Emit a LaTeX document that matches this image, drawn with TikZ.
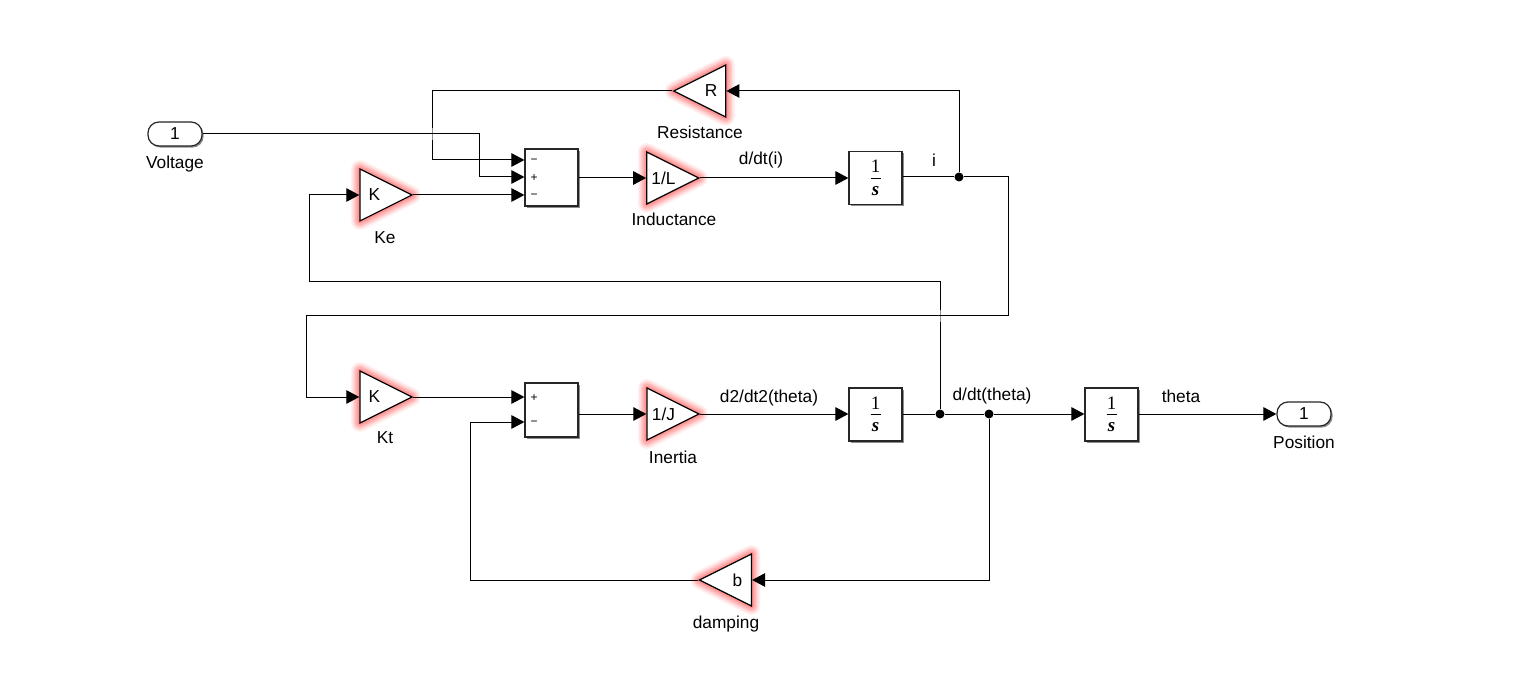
\documentclass[tikz,border=0pt]{standalone}
\usepackage{fontspec}
\setmainfont{Liberation Sans}
\newfontfamily\intfont{Liberation Serif}
\usetikzlibrary{arrows.meta,shapes.geometric,shadows}

\def\txtsize{\fontsize{17.3}{20}\selectfont}
\def\oneovers{\intfont\fontsize{19}{19}\selectfont\makebox[0pt]{\raisebox{5.5pt}{1}}\makebox[0pt]{\rule[-0.5pt]{10pt}{1.1pt}}\makebox[0pt]{\raisebox{-17pt}{\textbf{\textit{s}}}}}

\begin{document}
\begin{tikzpicture}[x=1pt,y=-1pt,line width=1pt,font=\txtsize,>={Triangle[length=13pt,width=13.5pt]}]
    \tikzstyle{shade}=[drop shadow={shadow xshift=1.6pt,shadow yshift=-1.6pt,opacity=0.45,fill=black}]
    \tikzstyle{block}=[draw=black!85,line width=1.2pt,fill=white,rectangle,inner sep=0pt,shade]
    \tikzstyle{int}=[block,minimum width=53pt,minimum height=53pt]
    \tikzstyle{sum}=[block,minimum width=53pt]
    \tikzstyle{port}=[block,rounded corners=11pt,minimum width=54pt,minimum height=24pt]
    \tikzstyle{glow}=[preaction={draw=red,opacity=0.06,line width=18pt,line join=round},
        preaction={draw=red,opacity=0.07,line width=15pt,line join=round},
        preaction={draw=red,opacity=0.09,line width=12pt,line join=round},
        preaction={draw=red,opacity=0.12,line width=9pt,line join=round},
        preaction={draw=red,opacity=0.16,line width=5pt,line join=round}]
    \tikzstyle{gain}=[isosceles triangle,isosceles triangle apex angle=53.13,isosceles triangle stretches,
        minimum width=52pt,minimum height=52pt,inner sep=0pt,draw=black,line width=1.2pt,fill=white,line join=miter,glow]
    \tikzstyle{gain back}=[gain,shape border rotate=180]
    \tikzstyle{dot}=[circle,fill=black,minimum size=9pt,inner sep=0pt]
    \tikzstyle{sign}=[font=\fontsize{12}{12}\selectfont,inner sep=0pt]
    \tikzstyle{wire}=[->,draw=black]
    \tikzstyle{faded}=[draw=white,opacity=0.55,line width=1.4pt]
    \useasboundingbox (0,0) rectangle (1514,700);

    % Draw the ports
    \node[port] (Voltage) at (175,134) {1};
    \node[port] (Position) at (1304,414) {1};

    % Draw the gain blocks
    \node[gain] (Ke) at (374.5,195) {K};
    \node[gain] (Kt) at (374.5,397) {K};
    \node[gain] (L) at (663.5,178) {1/L};
    \node[gain] (J) at (663.5,414) {1/J};
    \node[gain back] (R) at (711,91) {R};
    \node[gain back] (b) at (737.5,580) {b};

    % Draw the sums
    \node[sum,minimum height=57pt] (S-1) at (551.5,177.5) {};
    \node[sum,minimum height=54pt] (S-2) at (551.5,410) {};
    \node[sign] (S-1a) at (534,161) {−};
    \node[sign] (S-1b) at (534,178) {+};
    \node[sign] (S-1c) at (534,196) {−};
    \node[sign] (S-2a) at (534,398) {+};
    \node[sign] (S-2b) at (534,423) {−};
    \coordinate (S-1-in1) at (S-1.west |- 0,160);
    \coordinate (S-1-in2) at (S-1.west |- 0,177);
    \coordinate (S-1-in3) at (S-1.west |- 0,195);
    \coordinate (S-2-in1) at (S-2.west |- 0,397);
    \coordinate (S-2-in2) at (S-2.west |- 0,422);

    % Draw the integrators
    \node[int] (I-1) at (875.5,178) {\oneovers};
    \node[int] (I-2) at (875.5,414.5) {\oneovers};
    \node[int] (I-3) at (1111.5,414.5) {\oneovers};

    % Draw the branch points
    \node[dot] (D-1) at (959,177) {};
    \node[dot] (D-2) at (940,414) {};
    \node[dot] (D-3) at (989,414) {};

    % Corners of the long wires
    \coordinate (c-1) at (432,91);
    \coordinate (c-2) at (479,134);
    \coordinate (c-3) at (1008,316);
    \coordinate (c-4) at (306,316);
    \coordinate (c-5) at (940,282);
    \coordinate (c-6) at (309,282);
    \coordinate (c-7) at (470,580);

    % Ends of the faded bits at the crossings
    \coordinate (x-1a) at (432,128);
    \coordinate (x-1b) at (432,140);
    \coordinate (x-2a) at (940,310);
    \coordinate (x-2b) at (940,322);

    % Upper loop
    \draw[wire] (R.apex) -- (c-1) -- (c-1 |- S-1-in1) -- (S-1-in1);
    \draw[faded] (x-1a) -- (x-1b);
    \draw[wire] (Voltage.east |- 0,134) -- (c-2) -- (c-2 |- S-1-in2) -- (S-1-in2);
    \draw[wire] (Ke.apex) -- (S-1-in3);
    \draw[wire] (S-1.east |- L.lower side) -- (L.lower side);
    \draw[wire] (L.apex) -- (I-1.west |- L.apex);
    \draw (I-1.east |- D-1) -- (D-1);
    \draw[wire] (D-1) |- (R.lower side);

    % Wire from the speed up to Ke
    \draw[wire] (D-2) -- (c-5) -- (c-6) -- (c-6 |- Ke.lower side) -- (Ke.lower side);
    \draw[faded] (x-2a) -- (x-2b);

    % Wire from the current down to Kt
    \draw[wire] (D-1) -- (c-3 |- D-1) -- (c-3) -- (c-4) -- (c-4 |- Kt.lower side) -- (Kt.lower side);

    % Lower loop
    \draw[wire] (Kt.apex) -- (S-2-in1);
    \draw[wire] (S-2.east |- J.lower side) -- (J.lower side);
    \draw[wire] (J.apex) -- (I-2.west |- J.apex);
    \draw (I-2.east |- D-2) -- (D-2);
    \draw (D-2) -- (D-3);
    \draw[wire] (D-3) -- (I-3.west |- D-3);
    \draw[wire] (I-3.east |- D-3) -- (Position.west |- D-3);
    \draw[wire] (D-3) |- (b.lower side);
    \draw[wire] (b.apex) -- (c-7) -- (c-7 |- S-2-in2) -- (S-2-in2);

    % Annotate the blocks
    \node (Voltage-l) at (175,164) {Voltage};
    \node (Position-l) at (1304,442) {Position};
    \node (Ke-l) at (385,238) {Ke};
    \node (Kt-l) at (385,438) {Kt};
    \node (R-l) at (700,132) {Resistance};
    \node (L-l) at (674,219) {Inductance};
    \node (J-l) at (673,457) {Inertia};
    \node (b-l) at (726,624) {damping};

    % Annotate the wires
    \node (w-1) at (761,160) {d/dt(i)};
    \node (w-2) at (934,160) {i};
    \node (w-3) at (769,398) {d2/dt2(theta)};
    \node (w-4) at (992,396) {d/dt(theta)};
    \node (w-5) at (1181,396) {theta};
\end{tikzpicture}
\end{document}
